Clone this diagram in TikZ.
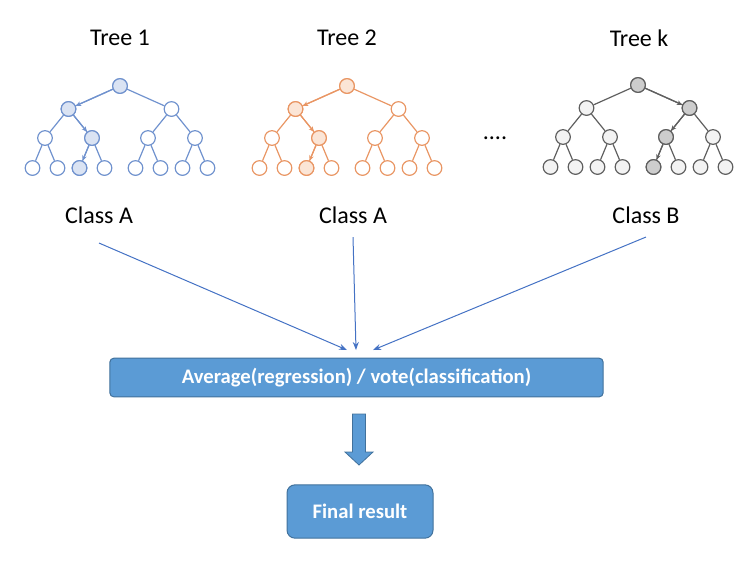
\documentclass[tikz,border=0pt]{standalone}
\usepackage{fontspec}
\setmainfont{Carlito}
\usetikzlibrary{arrows.meta}

\definecolor{tblue}{RGB}{112,146,206}
\definecolor{tbluefill}{RGB}{218,227,243}
\definecolor{torange}{RGB}{233,150,100}
\definecolor{torangefill}{RGB}{251,229,214}
\definecolor{tgray}{RGB}{95,95,95}
\definecolor{tgrayfill}{RGB}{205,205,205}
\definecolor{tgraylight}{RGB}{243,243,243}
\definecolor{linkblue}{RGB}{68,114,196}
\definecolor{boxfill}{RGB}{91,155,213}
\definecolor{boxline}{RGB}{65,113,156}

\tikzset{
  tnode/.style={circle, line width=0.9pt, minimum size=11pt, inner sep=0pt},
  tedge/.style={line width=0.9pt},
  lbl/.style={font=\fontsize{18}{22}\selectfont, inner sep=2pt},
  link/.style={linkblue, line width=0.75pt, -{Stealth[length=6pt,width=4.5pt]}},
  bluebox/.style={draw=boxline, fill=boxfill, line width=0.75pt, text=white,
    font=\fontsize{15.5}{18}\selectfont\bfseries},
  blockarrow/.style={draw=boxline, fill=boxfill, line width=0.6pt, line join=miter},
}

% one tree: name, root position, line colour, fill on the path, other fill, path below the root
\newcommand{\rftree}[6]{%
  \begin{scope}[shift={#2}]
    \foreach \i/\dx/\dy in {1/0/0, 2/-51.5/23, 3/51.5/23,
        4/-75/52, 5/-28/52, 6/28/52, 7/75/52,
        8/-87.5/82, 9/-62.5/82, 10/-40.5/82, 11/-15.5/82,
        12/15.5/82, 13/40.5/82, 14/62.5/82, 15/87.5/82}
      \node[tnode, draw=#3, fill=#5] (#1-\i) at (\dx,\dy) {};
  \end{scope}
  % nodes on the decision path
  \foreach \i in {1,#6}
    \node[tnode, draw=#3, fill=#4] (#1-\i) at (#1-\i) {};
  % edges
  \foreach \c in {2,...,15} {
    \pgfmathtruncatemacro{\p}{\c/2}
    \draw[tedge, #3] (#1-\p) -- (#1-\c);
  }
  \foreach \c in {#6} {
    \pgfmathtruncatemacro{\p}{\c/2}
    \draw[tedge, #3, -{Stealth[length=4pt,width=3.5pt]}] (#1-\p) -- (#1-\c);
  }
}

\begin{document}
\begin{tikzpicture}[x=0.75pt, y=-0.75pt]
  \useasboundingbox (0,0) rectangle (756,562);

  % ---------- trees ----------
  \node[lbl] (name1) at (120,38) {Tree 1};
  \node[lbl] (name2) at (347,38) {Tree 2};
  \node[lbl] (name3) at (639,38) {Tree k};

  \rftree{ta}{(120,86)}{tblue}{tbluefill}{white}{2,5,10}
  \rftree{tb}{(347,86)}{torange}{torangefill}{white}{2,5,10}
  \rftree{tc}{(638,85)}{tgray}{tgrayfill}{tgraylight}{3,6,12}

  \node[lbl] (dots) at (495,138) {....};

  % ---------- votes ----------
  \node[lbl] (cls1) at (99,215) {Class A};
  \node[lbl] (cls2) at (353,215) {Class A};
  \node[lbl] (cls3) at (646,215) {Class B};

  \node[bluebox, minimum width=370pt, minimum height=29pt, rounded corners=3pt]
    (avg) at (356.5,377.5) {Average(regression) / vote(classification)};

  \coordinate (in1) at (347,350);
  \coordinate (in2) at (356,350);
  \coordinate (in3) at (373,350);
  \draw[link] ([yshift=-12.5pt]cls1.south) -- (in1);
  \draw[link] ([yshift=-8pt]cls2.south) -- (in2);
  \draw[link] ([yshift=-8pt]cls3.south) -- (in3);

  % ---------- result ----------
  \draw[blockarrow] (352.5,414) -- (365.5,414) -- (365.5,452) -- (373,452)
    -- (359,465) -- (345,452) -- (352.5,452) -- cycle;
  \node[bluebox, minimum width=109.5pt, minimum height=40pt, rounded corners=6pt]
    (final) at (360,511.5) {Final result};
\end{tikzpicture}
\end{document}
